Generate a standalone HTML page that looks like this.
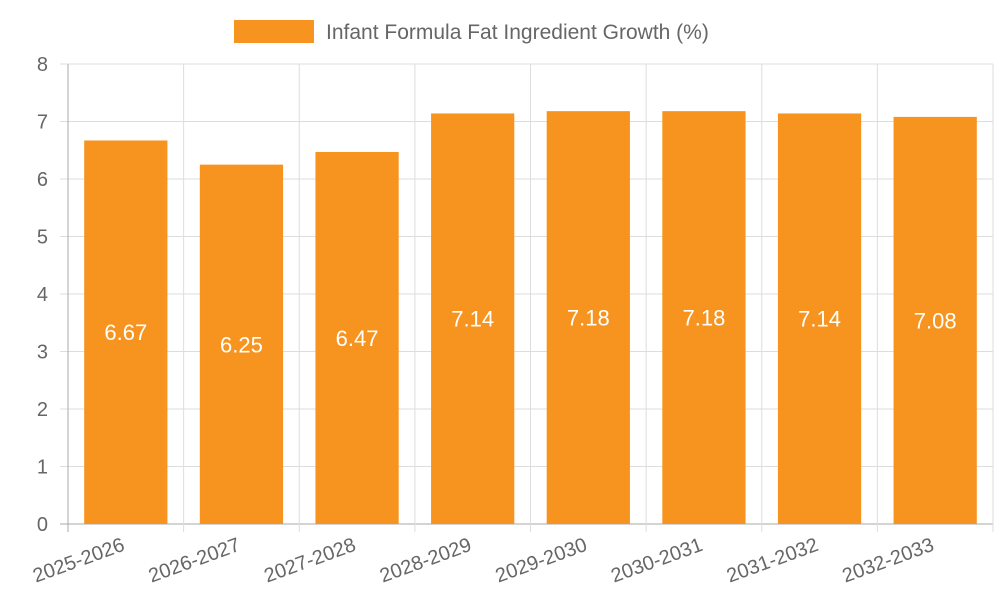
<!DOCTYPE html>
<html><head><meta charset="utf-8"><style>
body{margin:0;background:#fff;font-family:"Liberation Sans",sans-serif}
</style></head><body>
<svg id="chart" width="1000" height="600" xmlns="http://www.w3.org/2000/svg" font-family="Liberation Sans, sans-serif">
<g id="legend">
<rect x="234" y="20" width="80" height="23" fill="#f7941f"/>
<text x="326" y="39" font-size="21" fill="#666">Infant Formula Fat Ingredient Growth (%)</text>
</g>
<g id="grid"></g><g id="bars"></g><g id="labels"></g>
</svg>
<script>
const categories=["2025-2026","2026-2027","2027-2028","2028-2029","2029-2030","2030-2031","2031-2032","2032-2033"];
const values=[6.67,6.25,6.47,7.14,7.18,7.18,7.14,7.08];
const yTicks=[0,1,2,3,4,5,6,7,8];
const NS="http://www.w3.org/2000/svg";
const L=68,R=993,T=64,B=524,yMax=8;
const bw=(R-L)/categories.length;
const y=v=>B-(v/yMax)*(B-T);
const x=i=>L+i*bw;
function mk(t,a,p){const e=document.createElementNS(NS,t);for(const k in a)e.setAttribute(k,a[k]);p.appendChild(e);return e;}
const g=document.getElementById('grid'),gb=document.getElementById('bars'),gl=document.getElementById('labels');
yTicks.forEach(t=>{
 const ln=mk('line',{x1:L-8,x2:R,y1:y(t),y2:y(t),stroke:t===0?'#aaa':'#ddd','stroke-width':1},g);
 
 
 const tx=mk('text',{x:L-20,y:y(t)+7,'text-anchor':'end','font-size':20,fill:'#666'},g);
 tx.textContent=t;
 
 
});
for(let i=0;i<=categories.length;i++){
 const ln=mk('line',{x1:x(i),x2:x(i),y1:T,y2:B+8,stroke:i===0?'#aaa':'#ddd','stroke-width':1},g);
 
 
}
categories.forEach((c,i)=>{
 const cx=x(i)+bw/2,w=bw*0.72;
 const r=mk('rect',{x:cx-w/2,y:y(values[i]),width:w,height:B-y(values[i]),fill:'#f7941f'},gb);
 
 
 const v=mk('text',{x:cx,y:(y(values[i])+B)/2+8,'text-anchor':'middle','font-size':22,fill:'#fff'},gl);
 v.textContent=values[i].toFixed(2);
 
 
 const t=mk('text',{x:cx,y:B+26,'text-anchor':'end','font-size':20,fill:'#666',transform:`rotate(-20 ${cx} ${B+26})`},gl);
 t.textContent=c;
 
 
});
</script>
</body></html>
